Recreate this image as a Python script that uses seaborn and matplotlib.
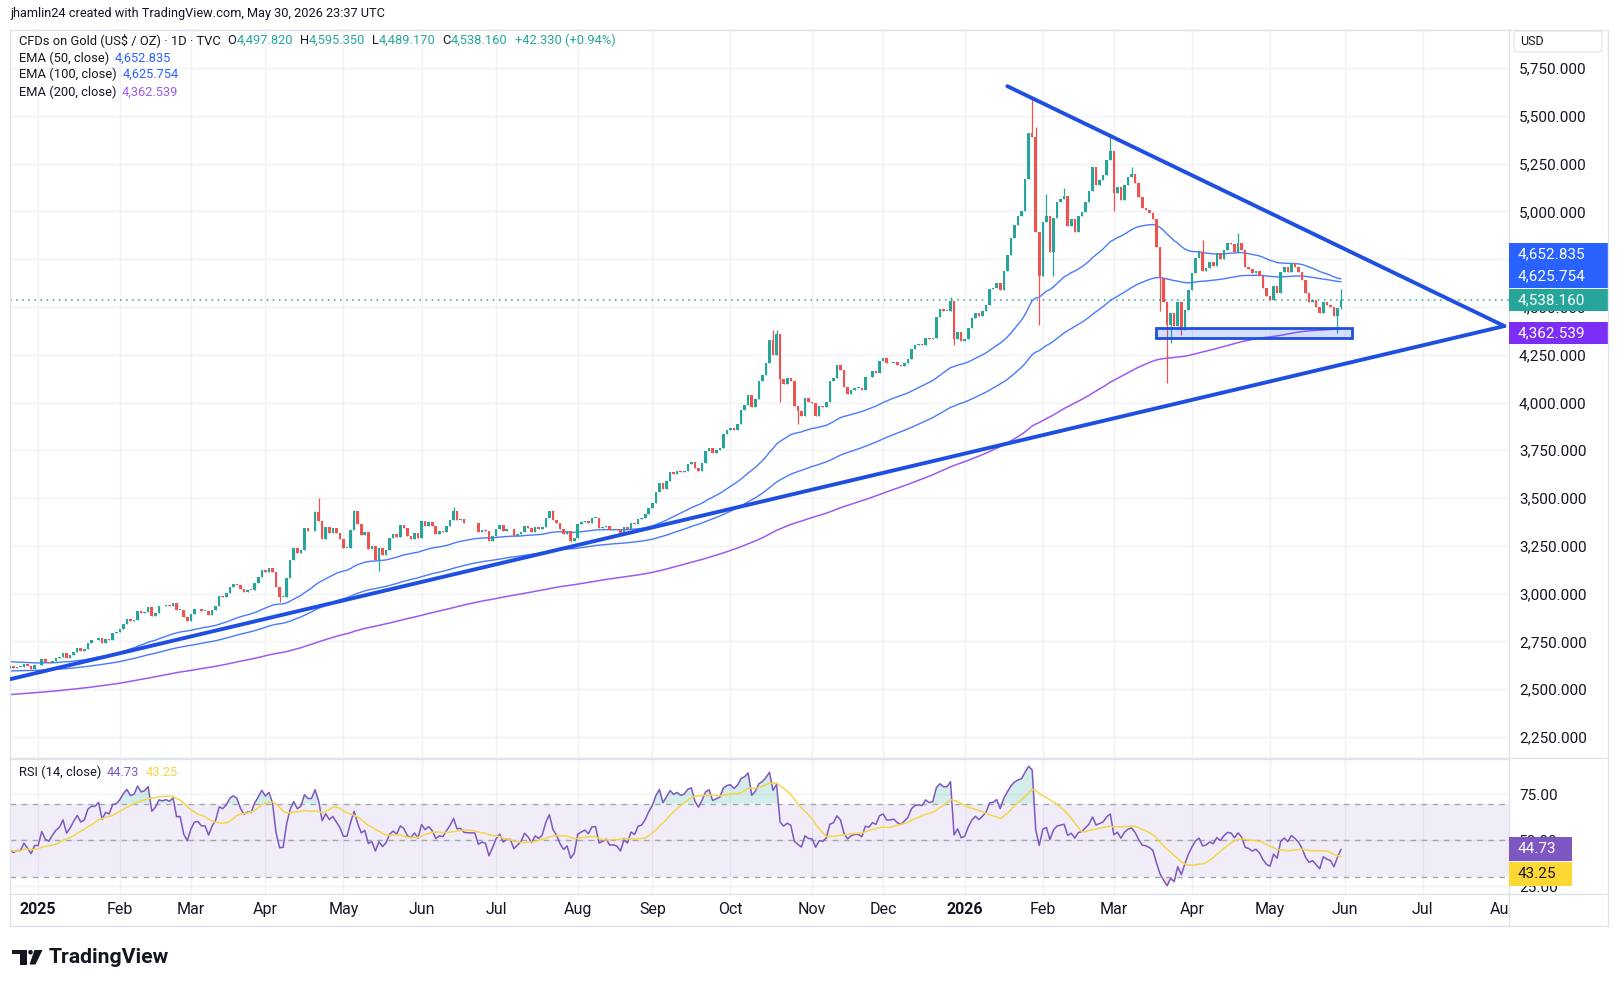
import numpy as np
import pandas as pd
import matplotlib
matplotlib.use("Agg")
import matplotlib.pyplot as plt
import seaborn as sns
from matplotlib.patches import Rectangle, Polygon, Circle, FancyBboxPatch
from matplotlib.lines import Line2D
from matplotlib.transforms import Bbox, TransformedBbox, blended_transform_factory

# daily closes of TVC gold, one list per month (weekdays)
dec24 = [2622, 2612, 2617, 2617, 2634, 2621, 2606, 2624]
jan25 = [2624, 2658, 2640, 2635, 2649, 2662, 2670, 2690, 2663, 2677, 2696, 2715, 2702,
         2708, 2744, 2755, 2755, 2770, 2740, 2763, 2760, 2795, 2798]
feb25 = [2815, 2843, 2866, 2856, 2861, 2908, 2898, 2905, 2928, 2882, 2898, 2935, 2933,
         2939, 2936, 2951, 2915, 2916, 2876, 2858]
mar25 = [2893, 2918, 2920, 2910, 2910, 2889, 2916, 2934, 2988, 2984, 3001, 3035, 3048,
         3043, 3023, 3011, 3020, 3019, 3057, 3085, 3124]
apr25 = [3113, 3134, 3114, 3037, 2982, 2983, 3082, 3175, 3237, 3210, 3230, 3342, 3327,
         3327, 3425, 3381, 3288, 3349, 3319, 3345, 3317, 3288]
may25 = [3239, 3241, 3333, 3431, 3364, 3305, 3324, 3235, 3248, 3177, 3240, 3203, 3230,
         3290, 3314, 3295, 3357, 3342, 3300, 3288, 3318, 3289]
jun25 = [3381, 3353, 3374, 3353, 3310, 3326, 3322, 3355, 3386, 3432, 3385, 3388, 3370,
         3369, 3368, 3368, 3323, 3332, 3327, 3274, 3303]
jul25 = [3338, 3357, 3326, 3337, 3336, 3301, 3313, 3325, 3355, 3343, 3324, 3347, 3339,
         3350, 3397, 3431, 3387, 3368, 3337, 3314, 3326, 3274, 3290]
aug25 = [3363, 3373, 3381, 3369, 3397, 3398, 3342, 3348, 3356, 3335, 3336, 3332, 3316,
         3347, 3338, 3372, 3365, 3393, 3397, 3416, 3448]
sep25 = [3476, 3533, 3578, 3545, 3587, 3636, 3626, 3641, 3634, 3643, 3679, 3690, 3659,
         3644, 3685, 3747, 3764, 3736, 3749, 3760, 3833, 3858]
oct25 = [3866, 3857, 3887, 3961, 3985, 4041, 3976, 4017, 4110, 4143, 4209, 4326, 4251,
         4356, 4125, 4095, 4126, 4111, 3982, 3953, 3930, 4025, 4002]
nov25 = [4000, 3932, 3981, 3977, 4001, 4115, 4128, 4195, 4171, 4083, 4044, 4067, 4077,
         4078, 4064, 4136, 4131, 4163, 4155, 4218]
dec25 = [4231, 4205, 4205, 4210, 4197, 4190, 4208, 4228, 4279, 4300, 4305, 4303, 4339,
         4332, 4339, 4445, 4488, 4480, 4480, 4532, 4330, 4370, 4320]
jan26 = [4330, 4390, 4440, 4470, 4455, 4480, 4510, 4594, 4600, 4625, 4590, 4690, 4770,
         4860, 4930, 4975, 5000, 5170, 5410, 5390, 4890, 4664]
feb26 = [4943, 4975, 4786, 4965, 5047, 5065, 5082, 4925, 4960, 4890, 4977, 4995, 5050,
         5108, 5230, 5140, 5165, 5190, 5270, 5315]
mar26 = [5095, 5130, 5060, 5138, 5180, 5195, 5150, 5077, 5016, 5008, 4990, 4960, 4816,
         4650, 4528, 4406, 4467, 4398, 4528, 4380, 4485, 4590]
apr26 = [4677, 4755, 4790, 4690, 4703, 4735, 4715, 4781, 4750, 4800, 4835, 4830, 4790,
         4835, 4800, 4711, 4700, 4677, 4690, 4660, 4600, 4555]
may26 = [4537, 4607, 4572, 4685, 4711, 4685, 4729, 4710, 4685, 4642, 4572, 4528, 4537,
         4502, 4467, 4528, 4510, 4500, 4450, 4496, 4538.16]

first_open = 2610
last_open = 4497.82
# long wicks visible on the chart
wick_hi = {"2025-04-21": 3430, "2025-04-22": 3500, "2025-05-06": 3437, "2025-06-13": 3451,
           "2025-07-23": 3439, "2025-10-17": 4379, "2025-10-20": 4381, "2025-12-26": 4550,
           "2026-01-28": 5595, "2026-01-29": 5440, "2026-02-03": 5090, "2026-02-10": 5120,
           "2026-02-27": 5400, "2026-03-09": 5230, "2026-04-06": 4851, "2026-04-20": 4886,
           "2026-05-29": 4595.35}
wick_lo = {"2025-04-07": 2957, "2025-05-15": 3121, "2025-07-30": 3268, "2025-10-21": 4004,
           "2025-10-28": 3886, "2025-12-29": 4300, "2026-01-30": 4403, "2026-02-05": 4664,
           "2026-03-02": 5000, "2026-03-19": 4480, "2026-03-23": 4100, "2026-03-24": 4310,
           "2026-03-27": 4355, "2026-05-28": 4363, "2026-05-29": 4489.17}

ema_seeds = {50: 2645, 100: 2595, 200: 2470}
rsi_seed_gain, rsi_seed_loss = 9.0, 11.0

# drawn objects (date, price)
lower_trend = [("2024-12-20", 2552), ("2026-08-03", 4400)]
upper_trend = [("2026-01-19", 5655), ("2026-08-03", 4400)]
support_box = [("2026-03-18", 4337), ("2026-06-03", 4389)]

price_ticks = list(range(2250, 5751, 250))
rsi_ticks = [25, 50, 75]
month_labels = ["2025", "Feb", "Mar", "Apr", "May", "Jun", "Jul", "Aug", "Sep", "Oct", "Nov",
                "Dec", "2026", "Feb", "Mar", "Apr", "May", "Jun", "Jul"]

# ---------------------------------------------------------------- data prep
closes = (dec24 + jan25 + feb25 + mar25 + apr25 + may25 + jun25 + jul25 + aug25 + sep25
          + oct25 + nov25 + dec25 + jan26 + feb26 + mar26 + apr26 + may26)
dates = pd.bdate_range("2024-12-20", periods=len(closes))
cal = pd.bdate_range("2024-12-20", "2026-08-31")
pos = {d.strftime("%Y-%m-%d"): i for i, d in enumerate(cal)}

df = pd.DataFrame({"date": dates, "close": np.array(closes, float)})
df["open"] = df["close"].shift(1).fillna(first_open)
df.loc[df.index[-1], "open"] = last_open
df["high"] = df[["open", "close"]].max(axis=1)
df["low"] = df[["open", "close"]].min(axis=1)
for d, v in wick_hi.items():
    df.loc[df.date == d, "high"] = v
for d, v in wick_lo.items():
    df.loc[df.date == d, "low"] = v
df["x"] = np.arange(len(df))


def ema(vals, n, seed):
    k = 2 / (n + 1)
    e = seed
    out = []
    for v in vals:
        e = e + k * (v - e)
        out.append(e)
    return np.array(out)


for n, s in ema_seeds.items():
    df[f"ema{n}"] = ema(df.close.values, n, s)

ag, al = rsi_seed_gain, rsi_seed_loss
rsi = [100 - 100 / (1 + ag / al)]
for dlt in np.diff(df.close.values):
    ag = (ag * 13 + max(dlt, 0)) / 14
    al = (al * 13 + max(-dlt, 0)) / 14
    rsi.append(100 - 100 / (1 + ag / al))
df["rsi"] = rsi
df["rsi_ma"] = df.rsi.rolling(14, min_periods=1).mean()

month_pos = []
for m in pd.date_range("2025-01-01", "2026-08-01", freq="MS"):
    month_pos.append(int(np.searchsorted(cal, m)))

# ---------------------------------------------------------------- styling
W, H = 1618, 985
sns.set_theme(style="white")
plt.rcParams["font.family"] = ["Roboto", "DejaVu Sans"]
UP, DN = "#26A69A", "#EF5350"
TXT = "#131722"
BLUE = "#2962FF"
PURP = "#9C5AF2"
GRID = "#F0F1F4"
BORDER = "#E0E3EB"


def fx(px):
    return px / W


def fy(px):
    return 1 - px / H


fig = plt.figure(figsize=(16.18, 9.85), dpi=100)
fig.patch.set_facecolor("white")
AX_L, AX_R = 10.3, 1508.6
ax = fig.add_axes([fx(AX_L), fy(758), fx(AX_R - AX_L), (758 - 30) / H])
axr = fig.add_axes([fx(AX_L), fy(893.6), fx(AX_R - AX_L), (893.6 - 759) / H], sharex=ax)

# ---------------------------------------------------------------- price panel
cols = np.where(df.close >= df.open, UP, DN)
ax.vlines(df.x, df.low, df.high, colors=cols, lw=0.9, zorder=3)
body = np.maximum((df.close - df.open).abs(), 3)
ax.bar(df.x, body, bottom=df[["open", "close"]].min(axis=1), width=0.72, color=cols,
       linewidth=0, zorder=3)

sns.lineplot(x=df.x, y=df.ema50, ax=ax, color=BLUE, lw=1.0, alpha=0.85, zorder=2)
sns.lineplot(x=df.x, y=df.ema100, ax=ax, color=BLUE, lw=1.0, alpha=0.85, zorder=2)
sns.lineplot(x=df.x, y=df.ema200, ax=ax, color=PURP, lw=1.1, zorder=2)

for (d0, p0), (d1, p1) in (lower_trend, upper_trend):
    ax.plot([pos[d0], pos[d1]], [p0, p1], color="#1F4FE0", lw=2.8,
            solid_capstyle="round", zorder=4)

(b0, q0), (b1, q1) = support_box
ax.add_patch(Rectangle((pos[b0], q0), pos[b1] - pos[b0], q1 - q0, fc=(0.16, 0.38, 1, 0.2),
                       ec="#1F4FE0", lw=2, zorder=4))

ax.axhline(df.close.iloc[-1], color=UP, lw=1.1, ls=(0, (1, 3)), zorder=1)

ax.set_xlim(0.15, 422.2)
ax.set_ylim(2140, 5949)
ax.set_yticks(price_ticks)
# 4,750 sits fully under the EMA value boxes
ax.set_yticklabels(["" if v == 4750 else f"{v:,.3f}" for v in price_ticks])
ax.yaxis.tick_right()
ax.tick_params(axis="y", length=0, pad=7.5, labelsize=11, labelcolor=TXT)
ax.tick_params(axis="x", length=0, labelbottom=False)
ax.set_xticks(month_pos)
ax.grid(True, color=GRID, lw=1)
ax.set_xlabel("")
ax.set_ylabel("")
for sp in ax.spines.values():
    sp.set_color(BORDER)
    sp.set_linewidth(1)

# value boxes on the price scale
tr = blended_transform_factory(ax.transAxes, ax.transData)
tx0 = (1518 - AX_L) / (AX_R - AX_L)
colw = (1608 - AX_R) / (AX_R - AX_L)
for yc, txt, c in [(4778, "4,652.835", BLUE), (4659, "4,625.754", BLUE),
                   (4535, "4,538.160", UP), (4362, "4,362.539", "#7C2EF6")]:
    ax.add_patch(Rectangle((1.0005, yc - 58), colw, 116, transform=tr, fc=c, ec="none",
                           clip_on=False, zorder=6))
    ax.text(tx0, yc, txt, transform=tr, color="white", fontsize=11, va="center",
            ha="left", zorder=7, clip_on=False)

# ---------------------------------------------------------------- RSI panel
axr.axhspan(30, 70, color="#7E57C2", alpha=0.1, lw=0)
for v in (70, 50, 30):
    axr.axhline(v, color="#A3A6AF", lw=1, ls=(0, (4, 4)))
axr.fill_between(df.x, 70, df.rsi, where=df.rsi > 70, interpolate=True, color=UP, alpha=0.2,
                 lw=0)
axr.fill_between(df.x, 30, df.rsi, where=df.rsi < 30, interpolate=True, color=DN, alpha=0.2,
                 lw=0)
sns.lineplot(x=df.x, y=df.rsi, ax=axr, color="#7E57C2", lw=1.1)
sns.lineplot(x=df.x, y=df.rsi_ma, ax=axr, color="#F5D54A", lw=1.1)
axr.set_ylim(21.0, 94.3)
axr.set_yticks(rsi_ticks)
axr.set_yticklabels([f"{v:.2f}" for v in rsi_ticks])
axr.yaxis.tick_right()
axr.tick_params(axis="y", length=0, pad=7.5, labelsize=11, labelcolor=TXT)
axr.set_xticks(month_pos[:-1])
axr.set_xticklabels(month_labels)
axr.tick_params(axis="x", length=0, pad=6, labelsize=11.5, labelcolor=TXT)
for t in axr.get_xticklabels():
    if t.get_text() in ("2025", "2026"):
        t.set_fontweight("bold")
axr.grid(True, color=GRID, lw=1)
axr.set_xlabel("")
axr.set_ylabel("")
for sp in axr.spines.values():
    sp.set_color(BORDER)
    sp.set_linewidth(1)

# "Aug" label cut by the price scale
aug = axr.text(month_pos[-1], -0.06, "Aug", transform=blended_transform_factory(
    axr.transData, axr.transAxes), ha="center", va="top", fontsize=11.5, color=TXT)
aug.set_clip_box(TransformedBbox(Bbox([[0, 0], [fx(AX_R), 1]]), fig.transFigure))
aug.set_clip_on(True)

trr = blended_transform_factory(axr.transAxes, axr.transData)
rw = (1571 - AX_R) / (AX_R - AX_L)
for yc, txt, c, tc in [(45.2, "44.73", "#7E57C2", "white"), (31.7, "43.25", "#FDD835", TXT)]:
    axr.add_patch(Rectangle((1.0005, yc - 6.4), rw, 12.8, transform=trr, fc=c, ec="none",
                            clip_on=False, zorder=6))
    axr.text(tx0, yc, txt, transform=trr, color=tc, fontsize=11, va="center", ha="left",
             zorder=7, clip_on=False)

# ---------------------------------------------------------------- frame lines
def fline(x0, y0, x1, y1):
    fig.add_artist(Line2D([fx(x0), fx(x1)], [fy(y0), fy(y1)], color=BORDER, lw=1))


fline(AX_R, 30, 1608, 30)
fline(AX_R, 758, 1608, 758)
fline(AX_R, 893.6, 1608, 893.6)
fline(AX_L, 925.6, 1608, 925.6)
fline(1608, 30, 1608, 925.6)
fline(AX_R, 893.6, AX_R, 925.6)
fline(AX_L, 893.6, AX_L, 925.6)

fig.add_artist(FancyBboxPatch((fx(1514), fy(52)), fx(88), 21 / H,
                              boxstyle="round,pad=0,rounding_size=0.003",
                              transform=fig.transFigure, fc="white", ec=BORDER, lw=0.8))
fig.text(fx(1520), fy(41.5), "USD", fontsize=9, color=TXT, va="center", ha="left")

# ---------------------------------------------------------------- header texts
renderer = fig.canvas.get_renderer()


def text_run(x_px, y_px, parts, size):
    x = x_px
    for s, c, gap in parts:
        t = fig.text(fx(x), fy(y_px), s, color=c, fontsize=size, va="center", ha="left")
        x += t.get_window_extent(renderer).width + gap


fig.text(fx(10.3), fy(14), "jhamlin24 created with TradingView.com, May 30, 2026 23:37 UTC",
         fontsize=9.2, color=TXT, va="center", ha="left")
text_run(18.6, 40.5, [("CFDs on Gold (US$ / OZ) · 1D · TVC", TXT, 7),
                      ("O", TXT, 0), ("4,497.820", UP, 7), ("H", TXT, 0), ("4,595.350", UP, 7),
                      ("L", TXT, 0), ("4,489.170", UP, 7), ("C", TXT, 0), ("4,538.160", UP, 7),
                      ("+42.330 (+0.94%)", UP, 0)], 9.3)
text_run(18.6, 58, [("EMA (50, close)", TXT, 6), ("4,652.835", BLUE, 0)], 9.3)
text_run(18.6, 74.5, [("EMA (100, close)", TXT, 6), ("4,625.754", BLUE, 0)], 9.3)
text_run(18.6, 92, [("EMA (200, close)", TXT, 6), ("4,362.539", PURP, 0)], 9.3)
text_run(18.6, 772, [("RSI (14, close)", TXT, 6), ("44.73", "#7E57C2", 6),
                     ("43.25", "#F5D54A", 0)], 9.3)

# ---------------------------------------------------------------- TradingView logo
lg = fig.add_axes([0, 0, 1, 1], zorder=-1)
lg.set_xlim(0, W)
lg.set_ylim(H, 0)
lg.axis("off")
lg.add_patch(Polygon([(12, 950), (27, 950), (27, 964.5), (20, 964.5), (20, 954), (12, 954)],
                     closed=True, fc=TXT, ec="none"))
lg.add_patch(Circle((30.5, 952.2), 2.3, fc=TXT, ec="none"))
lg.add_patch(Polygon([(34.5, 950), (42.5, 950), (35.5, 964.5), (29.5, 964.5)], closed=True,
                     fc=TXT, ec="none"))
lg.text(49, 957.5, "TradingView", fontsize=15.3, fontweight="bold", color=TXT, va="center",
        ha="left")

fig.savefig("out.png", dpi=100)
